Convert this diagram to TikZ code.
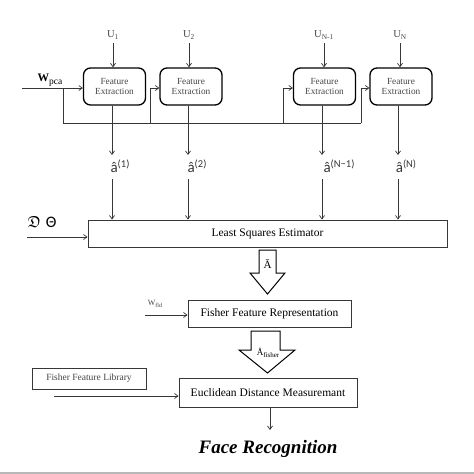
\documentclass[tikz,border=0pt]{standalone}
\usepackage{amssymb}
\usepackage{fontspec}
\setmainfont{Liberation Serif}
\newfontfamily\carl{Carlito}
\usetikzlibrary{arrows.meta}
\definecolor{ln}{RGB}{55,55,55}
\definecolor{tx}{RGB}{70,70,70}
\tikzset{
  fe/.style={draw=black, line width=1.3pt, rounded corners=7pt, minimum width=62pt, minimum height=37pt, align=center, text=tx, font=\fontsize{9.3}{10.5}\selectfont, inner sep=1pt},
  plainbox/.style={draw=ln, line width=0.9pt, inner sep=0pt},
  con/.style={draw=ln, line width=0.7pt},
  arr/.style={con, -{Straight Barb[length=3.5pt,width=5pt]}},
  blk/.style={draw=black, line width=1pt, fill=white},
  ulab/.style={text=tx, font=\fontsize{10.5}{10.5}\selectfont, inner sep=1pt},
  alab/.style={font=\carl\fontsize{15}{15}\selectfont, text=ln, inner sep=1pt},
}
\newcommand{\ahat}[1]{â\raisebox{5pt}{\fontsize{10.5}{10.5}\selectfont(#1)}}
\begin{document}
\begin{tikzpicture}[x=1pt,y=-1pt]
\useasboundingbox (0,0) rectangle (474,474);
\fill[white] (0,0) rectangle (474,474);
% feature extraction boxes
\node[fe] (fe1) at (114.5,86.5) {Feature\\Extraction};
\node[fe] (fe2) at (191,86.5) {Feature\\Extraction};
\node[fe] (fe3) at (324.5,86.5) {Feature\\Extraction};
\node[fe] (fe4) at (401,86.5) {Feature\\Extraction};
% U labels
\node[ulab] (u1) at (113,35) {U\textsubscript{1}};
\node[ulab] (u2) at (189,35) {U\textsubscript{2}};
\node[ulab] (u3) at (324,35) {U\textsubscript{N-1}};
\node[ulab] (u4) at (400,35) {U\textsubscript{N}};
\foreach \i in {1,2,3,4}{\draw[arr] (u\i.south |- 0,43) -- (u\i.south |- fe\i.north);}
% W_pca and bus
\node[inner sep=0pt, font=\fontsize{11.5}{11.5}\selectfont] (wpca) at (50,80) {\textbf{W}\raisebox{-3pt}{\fontsize{9.5}{9.5}\selectfont pca}};
\coordinate (w0) at (22,88);
\coordinate (j0) at (63,88);
\draw[arr] (w0) -- (w0 -| fe1.west);
\coordinate (b0) at (63,123);
\coordinate (b2) at (150,123);
\coordinate (b3) at (283,123);
\coordinate (b4) at (361,123);
\draw[con] (j0) -- (b0) -- (b4);
\draw[arr] (b2) -- (b2 |- w0) -- (w0 -| fe2.west);
\draw[arr] (b3) -- (b3 |- w0) -- (w0 -| fe3.west);
\draw[arr] (b4) -- (b4 |- w0) -- (w0 -| fe4.west);
% LSE
\node[plainbox, minimum width=359pt, minimum height=27pt, font=\fontsize{11.5}{11.5}\selectfont] (lse) at (267.5,233.5) {Least Squares Estimator};
% a-hat labels
\node[alab] (a1) at (120,166) {\ahat{1}};
\node[alab] (a2) at (197,166) {\ahat{2}};
\node[alab] (a3) at (339,166) {\ahat{N−1}};
\node[alab] (a4) at (406,166) {\ahat{N}};
\foreach \i/\x in {1/112,2/188,3/322,4/398}{
  \coordinate (top\i) at (\x,105);
  \coordinate (mid\i) at (\x,155);
  \coordinate (mid2\i) at (\x,179);
  \draw[arr] (fe\i.south -| top\i) -- (mid\i);
  \draw[arr] (mid2\i) -- (mid2\i |- lse.north);
}
% D Theta
\node[inner sep=0pt] (dth) at (42,222) {\fontsize{16}{16}\selectfont$\mathfrak{D}$\hspace{5pt}{\carl\fontsize{16}{16}\selectfont Θ}};
\coordinate (d0) at (27,237);
\draw[arr] (d0) -- (d0 -| lse.west);
% block arrow 1
\draw[blk] (259,250) -- (276,250) -- (276,273) -- (285,273) -- (267.5,294) -- (250,273) -- (259,273) -- cycle;
\node[inner sep=0pt, font=\fontsize{11}{11}\selectfont] (abar) at (267.5,264) {Ā};
% FFR
\node[plainbox, minimum width=163pt, minimum height=27pt, font=\fontsize{11.5}{11.5}\selectfont] (ffr) at (269.5,313.5) {Fisher Feature Representation};
\node[inner sep=0pt, text=tx, font=\fontsize{8}{8}\selectfont] (wfld) at (155,304) {W\raisebox{-2pt}{\fontsize{6}{6}\selectfont fld}};
\coordinate (wf0) at (145,315);
\draw[arr] (wf0) -- (wf0 -| ffr.west);
% block arrow 2
\draw[blk] (251,331) -- (280,331) -- (280,350) -- (295,350) -- (267.5,373) -- (239,350) -- (251,350) -- cycle;
\node[inner sep=0pt, font=\fontsize{9}{9}\selectfont] (afish) at (268,353) {Å\raisebox{-2pt}{\fontsize{7}{7}\selectfont fisher}};
% FFL and EDM
\node[plainbox, minimum width=114pt, minimum height=21pt, text=tx, font=\fontsize{9.5}{9.5}\selectfont] (ffl) at (89,378.5) {Fisher Feature Library};
\node[plainbox, minimum width=178pt, minimum height=29pt, font=\fontsize{11.5}{11.5}\selectfont] (edm) at (268,392.5) {Euclidean Distance Measuremant};
\coordinate (fl0) at (54,396);
\draw[arr] (fl0) -- (fl0 -| edm.west);
\coordinate (fr0) at (270,430);
\draw[arr] (edm.south -| fr0) -- (fr0);
\node[inner sep=0pt, font=\fontsize{19}{19}\selectfont\bfseries\itshape] (face) at (268,449) {Face Recognition};
% bottom bar
\fill[black!28] (0,471.5) rectangle (474,474);
\end{tikzpicture}
\end{document}
